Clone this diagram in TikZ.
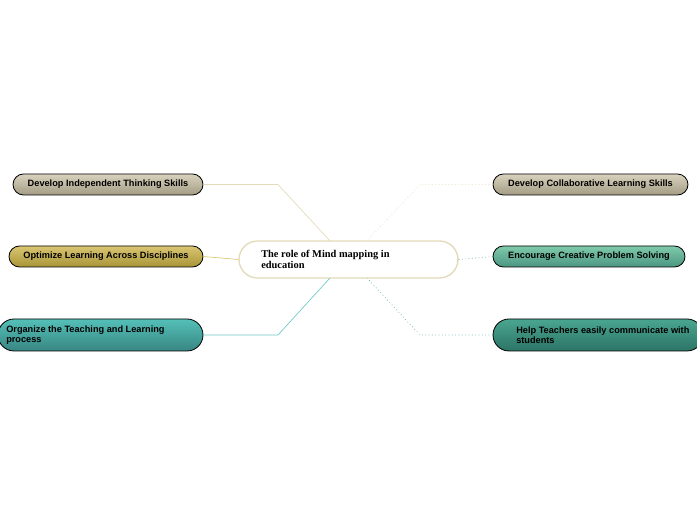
\documentclass[tikz,border=0pt]{standalone}
\usepackage{fontspec}
\setmainfont{Liberation Sans}
\newfontfamily\serifb{Liberation Serif}
\usetikzlibrary{shapes.misc}
\definecolor{lbeige}{HTML}{E2DAB8}
\definecolor{lteal}{HTML}{6CC8C4}
\definecolor{lgreen}{HTML}{4AA890}
\definecolor{bgT}{HTML}{D8D2BE}\definecolor{bgB}{HTML}{A49C84}
\definecolor{gdT}{HTML}{DAC672}\definecolor{gdB}{HTML}{A89436}
\definecolor{tlT}{HTML}{54C0B8}\definecolor{tlB}{HTML}{388682}
\definecolor{gnT}{HTML}{80CAAC}\definecolor{gnB}{HTML}{4A9680}
\definecolor{dgT}{HTML}{4AA690}\definecolor{dgB}{HTML}{2C7466}
\tikzset{
 br/.style={rounded rectangle, draw=black, line width=0.6pt, inner sep=0pt, minimum height=#1*0.75pt, font=\bfseries\fontsize{6.9}{7.6}\selectfont, text=black},
 br/.default=21,
 conn/.style={line width=0.5pt},
}
\begin{document}
\begin{tikzpicture}[x=0.75pt,y=-0.75pt]
\useasboundingbox (0,0) rectangle (697,520);
\node[rounded rectangle, draw=lbeige, line width=1pt, fill=white, minimum width=219*0.75pt, minimum height=37*0.75pt, inner sep=0pt] (c) at (348.5,259.5) {};
\node[anchor=west, align=left, inner sep=0pt, font=\serifb\bfseries\fontsize{7.8}{8.5}\selectfont] (ct) at (261,259.5) {The role of Mind mapping in\\education};
\node[br, top color=bgT, bottom color=bgB, minimum width=190*0.75pt] (dit) at (108,184.5) {Develop Independent Thinking Skills};
\node[br, top color=gdT, bottom color=gdB, minimum width=194*0.75pt] (olad) at (106,256.5) {Optimize Learning Across Disciplines};
\node[br=32, top color=tlT, bottom color=tlB, minimum width=205*0.75pt] (otlp) at (100.5,335) {};
\node[anchor=west, align=left, inner sep=0pt, font=\bfseries\fontsize{6.9}{7.6}\selectfont] (otlpt) at (6,335) {Organize the Teaching and Learning\\process};
\node[br, top color=bgT, bottom color=bgB, minimum width=195*0.75pt] (dcls) at (590.5,184.5) {Develop Collaborative Learning Skills};
\node[br, top color=gnT, bottom color=gnB, minimum width=192*0.75pt] (ecps) at (589,256.5) {Encourage Creative Problem Solving};
\node[br=32, top color=dgT, bottom color=dgB, minimum width=210*0.75pt] (htec) at (598,335) {};
\node[anchor=west, align=left, inner sep=0pt, font=\bfseries\fontsize{6.9}{7.6}\selectfont] (htect) at (516,335) {Help Teachers easily communicate with\\students};
\coordinate (k1) at (278,184.5); \coordinate (k2) at (278,335);
\coordinate (k3) at (420,184.5); \coordinate (k4) at (420,335);
\coordinate (e1) at (330,241); \coordinate (e2) at (330,278);
\coordinate (e3) at (367,241); \coordinate (e4) at (367,278);
\draw[conn, lbeige] (dit.east) -- (k1) -- (e1);
\draw[conn, gdT] (olad.east) -- (c.west);
\draw[conn, lteal] (otlp.east) -- (k2) -- (e2);
\draw[conn, lbeige, dotted] (dcls.west) -- (k3) -- (e3);
\draw[conn, lgreen, dotted] (c.east) -- (ecps.west);
\draw[conn, teal!70, dotted] (htec.west) -- (k4) -- (e4);
\end{tikzpicture}
\end{document}
